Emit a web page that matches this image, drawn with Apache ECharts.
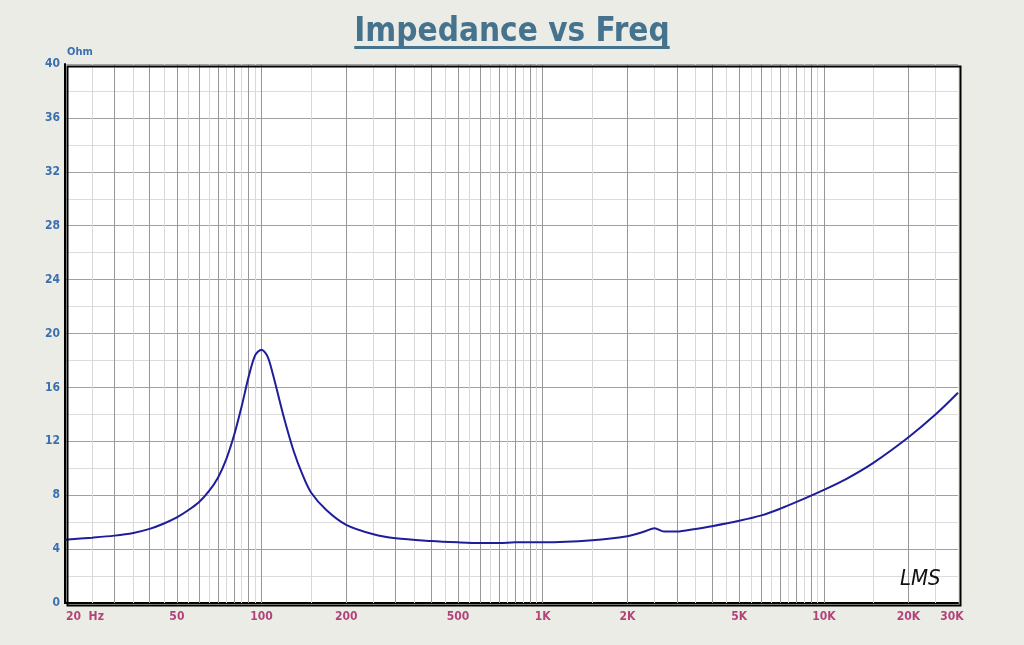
<!DOCTYPE html>
<html><head><meta charset="utf-8">
<script src="https://cdn.jsdelivr.net/npm/echarts@6/dist/echarts.min.js"></script>
<style>
html,body{margin:0;padding:0;background:#ecece7;}
#title{position:absolute;left:0;top:10px;width:1024px;text-align:center;font:bold 33px "DejaVu Sans Condensed","Liberation Sans",sans-serif;color:#45728c;text-decoration:underline;text-decoration-thickness:3px;text-underline-offset:5px;text-decoration-skip-ink:none;}
#c{position:absolute;left:0;top:0;width:1024px;height:645px;}
</style></head><body>
<div id="c"></div>
<div id="title">Impedance vs Freq</div>
<script>
const freqs=[20,25,30,35,40,45,50,55,60,65,70,75,80,85,90,95,100,105,110,120,130,140,150,170,200,250,300,400,500,600,700,800,1000,1500,2000,2300,2500,2700,3000,3500,4000,5000,6000,7000,8000,10000,12000,15000,20000,25000,30000];
const impedance=[4.7,4.85,5.0,5.2,5.5,5.9,6.35,6.9,7.5,8.3,9.3,10.7,12.5,14.6,16.8,18.4,18.8,18.3,16.9,13.8,11.3,9.5,8.2,6.9,5.8,5.1,4.8,4.6,4.5,4.45,4.45,4.5,4.5,4.65,4.95,5.3,5.55,5.3,5.3,5.5,5.7,6.1,6.5,7.0,7.5,8.4,9.2,10.4,12.3,14.0,15.6];
const tickFreqs=[20,50,100,200,500,1000,2000,5000,10000,20000,30000];
const tickLabels=['20  Hz','50','100','200','500','1K','2K','5K','10K','20K','30K'];

const major=[],minor=[];
for(const d of [10,100,1000,10000]){
  for(let k=1;k<10;k++){
    const f=k*d; if(f>20&&f<30000) major.push(f);
    const h=(k+0.5)*d; if(h>20&&h<30000) minor.push(h);
  }
}
const lab={color:'#a4195c',fontWeight:'bold',fontSize:12,fontFamily:'DejaVu Sans Condensed'};
const chart=echarts.init(document.getElementById('c'));
chart.setOption({
  animation:false,
  grid:{left:65,right:66,top:64,bottom:42,show:true,backgroundColor:'#ffffff',borderWidth:0},
  xAxis:{type:'log',logBase:10,min:20,max:30000,axisLabel:{show:false},axisTick:{show:false},splitLine:{show:false},minorSplitLine:{show:false},
    axisLine:{show:true,onZero:false,lineStyle:{color:'#000',width:2}}},
  yAxis:{type:'value',min:0,max:40,interval:4,name:'Ohm',nameGap:6,nameTextStyle:{color:'#3a6fb0',fontWeight:'bold',fontSize:11,fontFamily:'DejaVu Sans Condensed',align:'left',padding:[0,0,0,2]},
    axisLine:{show:true,lineStyle:{color:'#000',width:2}},axisTick:{show:false},
    axisLabel:{color:'#3a6fb0',fontWeight:'bold',fontSize:12,margin:5,fontFamily:'DejaVu Sans Condensed'},
    splitLine:{lineStyle:{color:'#a0a0a0',width:1}},
    minorTick:{show:false,splitNumber:2},minorSplitLine:{show:true,lineStyle:{color:'#dcdcdc'}}},
  graphic:[
    {type:'rect',left:65,top:64,shape:{width:893,height:539},style:{fill:'none',stroke:'#000',lineWidth:2},z:100},
    {type:'text',left:900,top:568,style:{text:'LMS',font:'italic 22px "DejaVu Sans Condensed"',fill:'#111'},z:100}
  ],
  series:[
    {type:'line',data:[],markLine:{silent:true,symbol:'none',label:{show:false},lineStyle:{type:'solid',color:'#d8d8d8',width:1},data:minor.map(f=>({xAxis:f}))},z:1},
    {type:'line',data:[],markLine:{silent:true,symbol:'none',label:{show:false},lineStyle:{type:'solid',color:'#979797',width:1},data:major.map(f=>({xAxis:f}))},z:2},
    {type:'scatter',symbolSize:0,data:tickFreqs.map((f,i)=>({value:[f,0],label:{formatter:tickLabels[i],offset:[i===0?20:(i===tickFreqs.length-1?-6:0),0]}})),
      label:Object.assign({show:true,position:'bottom',distance:8},lab),z:5},
    {type:'line',data:freqs.map((f,i)=>[f,impedance[i]]),smooth:0.3,showSymbol:false,lineStyle:{color:'#1e1e9a',width:2},z:10}
  ]
});
</script></body></html>
